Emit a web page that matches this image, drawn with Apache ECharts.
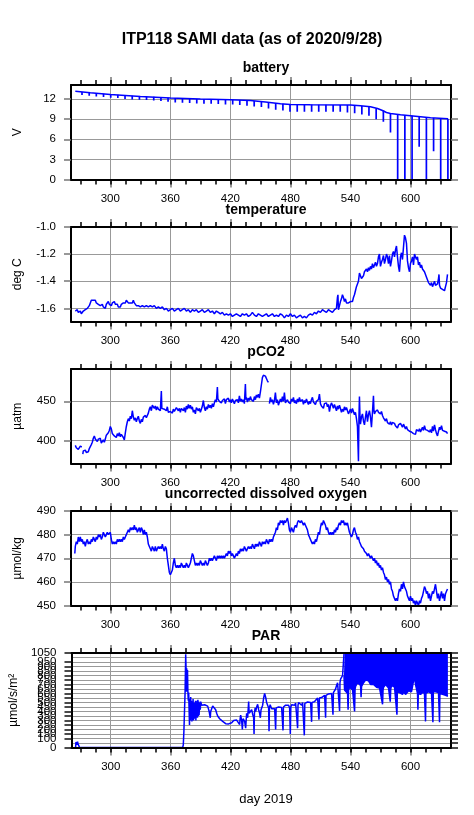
<!DOCTYPE html>
<html><head><meta charset="utf-8">
<script src="https://cdn.jsdelivr.net/npm/echarts@6.0.0/dist/echarts.min.js"></script>
<style>html,body{margin:0;padding:0;background:#fff}#c{width:474px;height:815px}</style>
</head><body><div id="c"></div>
<script>
// ---------- tick labels ----------
const xMajor = [300, 360, 420, 480, 540, 600];
const xMinor = [270, 285, 300, 315, 330, 345, 360, 375, 390, 405, 420, 435, 450, 465, 480, 495, 510, 525, 540, 555, 570, 585, 600, 615, 630];
const battTicks = [0, 3, 6, 9, 12];
const tempTicks = [-1.6, -1.4, -1.2, -1.0];
const pco2Ticks = [400, 450];
const oxyTicks = [450, 460, 470, 480, 490];
const parTicks = [0, 50, 100, 150, 200, 250, 300, 350, 400, 450, 500, 550, 600, 650, 700, 750, 800, 850, 900, 950, 1000, 1050];

// ---------- battery ----------
const battBaseDay = [265, 280, 300, 330, 360, 390, 420, 440, 455, 470, 480, 500, 540, 550, 560, 567, 572, 576, 580, 590, 605, 620, 637.5];
const battBaseV = [13.15, 12.95, 12.7, 12.4, 12.15, 12.0, 11.9, 11.8, 11.55, 11.3, 11.2, 11.15, 11.1, 11.0, 10.85, 10.6, 10.3, 10.0, 9.85, 9.65, 9.45, 9.2, 9.05];
const spikeDay = [271.7, 278.9, 286.0, 293.2, 300.4, 307.5, 314.7, 321.9, 329.1, 336.2, 343.4, 350.6, 357.7, 364.9, 372.1, 379.3, 386.4, 393.6, 400.8, 407.9, 415.1, 422.3, 429.4, 436.6, 443.8, 451.0, 458.1, 465.3, 472.5, 479.6, 486.8, 494.0, 501.2, 508.3, 515.5, 522.7, 529.8, 537.0, 544.2, 551.4, 558.5, 565.7, 572.9, 580.0, 587.2, 594.4, 601.6, 608.7, 615.9, 623.1, 630.2, 637.4];
const spikeTop = [13.05, 12.95, 12.9, 12.8, 12.7, 12.65, 12.6, 12.5, 12.45, 12.4, 12.35, 12.3, 12.2, 12.15, 12.1, 12.05, 12.0, 12.0, 11.95, 11.95, 11.9, 11.9, 11.85, 11.8, 11.7, 11.6, 11.5, 11.4, 11.3, 11.2, 11.2, 11.2, 11.2, 11.15, 11.15, 11.1, 11.1, 11.1, 11.0, 10.95, 10.8, 10.6, 10.3, 9.9, 9.7, 9.6, 9.5, 9.4, 9.3, 9.2, 9.1, 9.05];
const spikeLow = [12.6, 12.5, 12.4, 12.3, 12.2, 12.15, 12.0, 11.95, 11.9, 11.85, 11.8, 11.7, 11.6, 11.5, 11.45, 11.4, 11.35, 11.3, 11.3, 11.25, 11.2, 11.2, 11.1, 11.0, 10.9, 10.8, 10.6, 10.4, 10.3, 10.1, 10.1, 10.1, 10.1, 10.1, 10.1, 10.1, 10.1, 10.0, 9.9, 9.7, 9.5, 9.0, 8.6, 7.0, 0, 0, 0, 4.9, 0, 4.2, 0, 0];

// ---------- temperature [day, degC] ----------
const temperature = [[265,-1.62],[266,-1.63],[267,-1.61],[268,-1.63],[270,-1.62],[271,-1.64],[272,-1.65],[273,-1.62],[274,-1.63],[275,-1.61],[276,-1.62],[277,-1.60],[278,-1.61],[279,-1.58],[280,-1.56],[281,-1.54],[282,-1.53],[283,-1.54],[284,-1.55],[285,-1.54],[286,-1.56],[287,-1.55],[288,-1.57],[289,-1.56],[290,-1.58],[292,-1.57],[293,-1.59],[294,-1.58],[295,-1.60],[296,-1.57],[297,-1.56],[298,-1.55],[299,-1.57],[300,-1.56],[301,-1.58],[302,-1.56],[303,-1.57],[304,-1.55],[305,-1.57],[306,-1.58],[307,-1.57],[308,-1.59],[309,-1.58],[310,-1.59],[311,-1.57],[312,-1.58],[313,-1.56],[314,-1.55],[315,-1.56],[316,-1.54],[317,-1.55],[318,-1.56],[319,-1.55],[320,-1.56],[321,-1.55],[322,-1.56],[323,-1.54],[324,-1.56],[325,-1.57],[326,-1.58],[328,-1.58],[330,-1.59],[332,-1.58],[334,-1.59],[336,-1.58],[338,-1.59],[340,-1.58],[342,-1.59],[344,-1.58],[346,-1.60],[348,-1.59],[350,-1.60],[352,-1.59],[354,-1.61],[356,-1.60],[358,-1.62],[360,-1.61],[362,-1.60],[364,-1.62],[366,-1.61],[368,-1.60],[370,-1.62],[372,-1.61],[374,-1.60],[376,-1.62],[378,-1.61],[380,-1.63],[382,-1.61],[384,-1.62],[386,-1.61],[388,-1.63],[390,-1.62],[392,-1.61],[394,-1.63],[396,-1.62],[398,-1.61],[400,-1.63],[402,-1.62],[404,-1.64],[406,-1.62],[408,-1.63],[410,-1.64],[412,-1.63],[414,-1.65],[416,-1.64],[418,-1.65],[420,-1.64],[422,-1.66],[424,-1.65],[426,-1.64],[428,-1.65],[430,-1.66],[432,-1.64],[434,-1.65],[436,-1.64],[438,-1.66],[440,-1.65],[442,-1.63],[444,-1.65],[446,-1.66],[448,-1.64],[450,-1.65],[452,-1.66],[454,-1.65],[456,-1.64],[458,-1.66],[460,-1.65],[462,-1.64],[464,-1.66],[466,-1.65],[468,-1.66],[470,-1.64],[472,-1.65],[474,-1.67],[476,-1.65],[478,-1.66],[480,-1.64],[482,-1.66],[484,-1.65],[486,-1.67],[488,-1.66],[490,-1.65],[492,-1.67],[494,-1.66],[496,-1.67],[498,-1.65],[500,-1.64],[502,-1.65],[504,-1.63],[506,-1.64],[508,-1.62],[510,-1.63],[512,-1.61],[514,-1.62],[516,-1.63],[518,-1.61],[520,-1.62],[522,-1.63],[524,-1.61],[525,-1.62],[526,-1.60],[527,-1.52],[527.5,-1.50],[528,-1.61],[529,-1.62],[530,-1.55],[531,-1.53],[532,-1.50],[533,-1.52],[534,-1.55],[535,-1.53],[536,-1.56],[537,-1.57],[538,-1.56],[539,-1.57],[540,-1.55],[541,-1.54],[542,-1.55],[543,-1.52],[544,-1.50],[545,-1.47],[546,-1.44],[547,-1.43],[548,-1.40],[549,-1.34],[550,-1.33],[551,-1.38],[552,-1.37],[553,-1.36],[554,-1.33],[555,-1.34],[556,-1.31],[557,-1.33],[558,-1.30],[559,-1.32],[560,-1.29],[561,-1.31],[562,-1.27],[563,-1.30],[564,-1.28],[565,-1.26],[566,-1.29],[567,-1.27],[568,-1.22],[569,-1.20],[570,-1.29],[571,-1.26],[572,-1.24],[573,-1.21],[574,-1.27],[575,-1.24],[576,-1.20],[577,-1.22],[578,-1.27],[579,-1.21],[580,-1.29],[581,-1.25],[582,-1.20],[583,-1.18],[584,-1.22],[585,-1.17],[586,-1.14],[587,-1.22],[588,-1.29],[589,-1.33],[590,-1.22],[591,-1.19],[592,-1.24],[593,-1.15],[594,-1.06],[595,-1.08],[596,-1.12],[597,-1.25],[598,-1.30],[599,-1.33],[600,-1.27],[601,-1.25],[602,-1.22],[603,-1.28],[604,-1.20],[605,-1.19],[606,-1.24],[607,-1.22],[608,-1.28],[609,-1.26],[610,-1.30],[611,-1.28],[612,-1.31],[613,-1.30],[614,-1.33],[615,-1.34],[616,-1.37],[617,-1.38],[618,-1.41],[619,-1.40],[620,-1.43],[621,-1.41],[622,-1.44],[623,-1.42],[624,-1.40],[625,-1.43],[626,-1.44],[627,-1.42],[628,-1.38],[628.5,-1.35],[629,-1.43],[630,-1.45],[631,-1.44],[632,-1.46],[633,-1.45],[634,-1.47],[635,-1.44],[636,-1.41],[637,-1.35]];

// ---------- pCO2 [day, µatm] ----------
const pco2 = [[265,394],[266,391],[267,392],[268,389],[269,390],[270,393],[271,394],[271.5,392],[272,null],[272.5,383],[273,387],[274,386],[275,388],[276,385],[277,387],[278,386],[279,390],[280,388],[281,395],[282,398],[283,403],[284,406],[285,402],[286,404],[287,399],[288,402],[289,400],[290,403],[291,397],[292,399],[293,401],[294,398],[295,402],[296,407],[297,405],[298,410],[299,413],[300,418],[301,415],[302,409],[303,411],[304,406],[305,408],[306,404],[307,409],[308,406],[309,410],[310,405],[311,408],[312,409],[313,404],[314,401],[315,410],[316,418],[317,424],[318,428],[319,425],[320,431],[321,428],[322,438],[323,430],[324,426],[325,429],[326,424],[327,428],[328,431],[329,425],[330,422],[331,427],[332,424],[333,430],[334,428],[335,432],[336,429],[337,431],[338,435],[339,440],[340,443],[341,438],[342,445],[343,446],[344,441],[345,444],[346,439],[347,443],[348,440],[349,442],[350,438],[351,463],[351.5,441],[352,439],[353,443],[354,440],[355,442],[356,438],[357,443],[358,436],[359,434],[360,437],[361,439],[362,435],[363,440],[364,437],[365,439],[366,442],[367,444],[368,438],[369,441],[370,436],[371,441],[372,443],[373,438],[374,442],[375,436],[376,444],[377,440],[378,446],[379,441],[380,445],[381,440],[382,443],[383,436],[384,439],[385,434],[386,442],[387,444],[388,438],[389,441],[390,436],[391,440],[392,444],[393,451],[394,442],[395,438],[396,443],[397,440],[398,446],[399,442],[400,445],[401,441],[402,447],[403,443],[404,448],[405,452],[406,449],[407,468],[407.5,453],[408,455],[409,450],[410,452],[411,448],[412,451],[413,449],[414,453],[415,447],[416,452],[417,450],[418,454],[419,449],[420,452],[421,448],[422,453],[423,450],[424,447],[425,451],[426,449],[427,452],[428,448],[429,457],[430,450],[431,453],[432,449],[433,452],[434,447],[435,472],[435.5,452],[436,455],[437,449],[438,454],[439,451],[440,456],[441,452],[442,454],[443,450],[444,456],[445,452],[446,458],[447,455],[448,459],[449,454],[450,462],[451,471],[452,480],[453,483],[454,481],[455,482],[456,479],[457,476],[458,474],[458.5,null],[459,447],[460,455],[461,449],[462,452],[463,446],[464,451],[465,461],[466,448],[467,452],[468,445],[469,447],[470,453],[471,449],[472,456],[473,450],[474,461],[475,448],[476,446],[477,452],[478,449],[479,451],[480,447],[481,453],[482,450],[483,455],[484,448],[485,451],[486,447],[487,453],[488,449],[489,455],[490,450],[491,448],[492,452],[493,446],[494,451],[495,448],[496,453],[497,449],[498,446],[499,450],[500,447],[501,452],[502,455],[503,449],[504,451],[505,446],[506,450],[507,448],[508,452],[509,459],[510,447],[511,444],[512,446],[513,441],[514,447],[515,445],[516,448],[517,443],[518,446],[519,437],[520,444],[521,448],[522,445],[523,441],[524,446],[525,442],[526,438],[527,444],[528,440],[529,445],[530,441],[531,436],[532,440],[533,437],[534,443],[535,439],[536,442],[537,438],[538,434],[539,437],[540,440],[541,435],[542,441],[543,437],[544,433],[545,436],[546,428],[547,418],[548,374],[548.5,430],[549,456],[549.5,432],[550,421],[551,430],[552,434],[553,425],[554,420],[555,430],[556,438],[557,424],[558,433],[559,438],[560,430],[561,417],[562,436],[563,457],[563.5,438],[564,434],[565,437],[566,435],[567,439],[568,436],[569,438],[570,434],[571,437],[572,432],[573,429],[574,427],[575,425],[576,428],[577,423],[578,425],[579,421],[580,424],[581,420],[582,423],[583,425],[584,422],[585,419],[586,421],[587,416],[588,420],[589,418],[590,422],[591,420],[592,417],[593,421],[594,419],[595,415],[596,418],[597,414],[598,416],[599,412],[600,414],[601,411],[602,413],[603,409],[604,411],[605,408],[606,414],[607,416],[608,412],[609,415],[610,411],[611,414],[612,417],[613,413],[614,419],[615,414],[616,416],[617,413],[618,415],[619,411],[620,414],[621,410],[622,418],[623,412],[624,420],[625,414],[626,409],[627,406],[628,412],[629,417],[630,414],[631,419],[632,413],[633,415],[634,412],[635,414],[636,411],[637,409]];

// ---------- dissolved oxygen [day, µmol/kg] ----------
const oxygen = [[264.5,472],[265,475],[266,477],[267,476],[268,479],[269,477],[270,479],[271,477],[272,478],[273,476],[274,477],[275,475],[276,477],[277,478],[278,476],[279,477],[280,476],[281,478],[282,477],[283,479],[284,478],[285,477],[286,479],[287,478],[288,480],[289,479],[290,480],[291,478],[292,479],[293,481],[294,480],[295,479],[296,480],[297,481],[298,480],[299,480],[300,481],[301,478],[302,476],[303,477],[304,476],[305,477],[306,476],[307,478],[308,477],[309,478],[310,477],[311,478],[312,477],[313,479],[314,478],[315,479],[316,480],[317,481],[318,482],[319,481],[320,483],[321,482],[322,483],[323,482],[324,484],[325,482],[326,483],[327,481],[328,482],[329,483],[330,481],[331,483],[332,482],[333,480],[334,482],[335,480],[336,481],[337,479],[338,476],[339,475],[340,474],[341,473],[342,475],[343,474],[344,473],[345,475],[346,473],[347,474],[348,475],[349,474],[350,475],[351,474],[352,476],[353,474],[354,473],[355,475],[356,474],[357,470],[358,467],[359,464],[360,463],[361,464],[362,465],[363,468],[364,470],[365,467],[366,466],[367,467],[368,466],[369,467],[370,466],[371,468],[372,467],[373,466],[374,467],[375,466],[376,468],[377,467],[378,466],[379,467],[380,468],[381,470],[382,472],[383,471],[384,469],[385,467],[386,468],[387,467],[388,468],[389,467],[390,469],[391,468],[392,467],[393,468],[394,467],[395,469],[396,468],[397,467],[398,468],[399,470],[400,469],[401,470],[402,469],[403,470],[404,471],[405,470],[406,469],[407,471],[408,470],[409,471],[410,470],[411,471],[412,470],[413,471],[414,470],[415,471],[416,472],[417,471],[418,473],[419,472],[420,473],[421,471],[422,472],[423,471],[424,470],[425,471],[426,472],[427,471],[428,473],[429,472],[430,474],[431,473],[432,474],[433,473],[434,475],[435,474],[436,473],[437,474],[438,475],[439,474],[440,475],[441,474],[442,476],[443,475],[444,474],[445,476],[446,475],[447,476],[448,475],[449,477],[450,476],[451,475],[452,477],[453,476],[454,477],[455,476],[456,478],[457,477],[458,476],[459,478],[460,477],[461,478],[462,477],[463,479],[464,480],[465,481],[466,483],[467,482],[468,485],[469,484],[470,486],[471,485],[472,486],[473,484],[474,486],[475,485],[476,486],[477,487],[478,485],[479,482],[480,481],[481,483],[482,482],[483,481],[484,483],[485,484],[486,483],[487,485],[488,486],[489,486],[490,485],[491,486],[492,485],[493,484],[494,485],[495,484],[496,483],[497,482],[498,480],[499,479],[500,478],[501,477],[502,476],[503,477],[504,476],[505,478],[506,477],[507,479],[508,481],[509,480],[510,483],[511,485],[512,484],[513,486],[514,485],[515,484],[516,482],[517,483],[518,481],[519,480],[520,481],[521,480],[522,481],[523,480],[524,482],[525,481],[526,483],[527,482],[528,484],[529,485],[530,484],[531,486],[532,485],[533,486],[534,484],[535,485],[536,484],[537,485],[538,483],[539,481],[540,480],[541,479],[542,480],[543,482],[544,483],[545,481],[546,480],[547,478],[548,479],[549,477],[550,476],[551,475],[552,475],[553,474],[554,473],[555,473],[556,472],[557,471],[558,472],[559,471],[560,470],[561,471],[562,470],[563,469],[564,470],[565,468],[566,469],[567,467],[568,468],[569,466],[570,467],[571,465],[572,466],[573,464],[574,463],[575,461],[576,462],[577,460],[578,461],[579,459],[580,460],[581,457],[582,456],[583,454],[584,453],[585,452],[586,453],[587,452],[588,455],[589,457],[590,456],[591,459],[592,457],[593,460],[594,458],[595,457],[596,456],[597,454],[598,453],[599,452],[600,454],[601,452],[602,453],[603,451],[604,452],[605,450],[606,452],[607,451],[608,450],[609,452],[610,451],[611,453],[612,454],[613,456],[614,458],[615,457],[616,455],[617,456],[618,453],[619,455],[620,452],[621,454],[622,456],[623,455],[624,457],[625,459],[626,456],[627,453],[628,455],[629,452],[630,454],[631,456],[632,453],[633,455],[634,452],[635,455],[636,456],[637,457]];

// ---------- PAR [day, µmol/s/m2] ----------
const par = [[264.8,0],[265.2,60],[265.6,45],[266,70],[266.4,30],[266.8,65],[267.2,40],[267.6,55],[268,20],[268.4,50],[268.8,0],[270,0],[372,0],[372.6,30],[373.2,180],[373.8,400],[374.4,620],[375,1035],[375.4,860],[375.7,620],[376,880],[376.4,700],[376.8,860],[377.2,620],[377.6,520],[378,610],[378.4,420],[378.8,250],[379.2,540],[379.6,300],[380,560],[380.4,330],[380.8,520],[381.2,290],[381.6,500],[382,310],[382.4,540],[382.8,300],[383.2,470],[383.6,320],[384,500],[384.4,330],[384.8,520],[385.2,300],[385.6,490],[386,340],[386.4,520],[386.8,330],[387.2,530],[387.6,350],[388,510],[388.4,360],[389,500],[389.6,420],[390,510],[391,470],[392,490],[393,480],[394,475],[395,485],[396,470],[397,460],[398,440],[398.5,400],[399,420],[399.6,330],[400,400],[401,430],[402,460],[403,470],[404,440],[405,420],[406,380],[407,350],[408,330],[409,320],[410,310],[411,300],[412,290],[413,280],[414,270],[415,265],[416,260],[417,255],[418,262],[419,270],[420,280],[421,275],[422,290],[423,300],[424,295],[425,310],[426,305],[427,320],[428,300],[429,255],[429.5,320],[430,360],[431,300],[431.7,200],[432.4,320],[433,330],[434,290],[435,215],[435.5,300],[436,380],[437,330],[438,510],[438.5,380],[439,360],[440,380],[441,420],[442,370],[443,330],[443.4,150],[443.8,380],[444.5,440],[445,400],[446,450],[447,480],[448,420],[449,380],[449.7,330],[450.4,420],[451,440],[452,470],[453,550],[454,600],[454.5,620],[455,560],[456,500],[457,470],[458,440],[458.4,180],[458.8,440],[459.5,475],[460,460],[461,430],[462,440],[463,450],[464,430],[465,200],[465.5,440],[466,455],[467,430],[468,450],[469,440],[470,460],[471,445],[472.4,190],[472.8,450],[473.5,460],[474.4,440],[475,470],[476,455],[477,450],[478,470],[479,440],[479.7,150],[480.2,450],[481,475],[482,460],[483,490],[484,470],[485,495],[486,480],[487,215],[487.4,470],[488,500],[489,480],[490,495],[491,470],[492,500],[493,480],[493.7,135],[494.2,490],[495,510],[496,490],[497,505],[498,495],[499,490],[500,500],[501,285],[501.4,500],[502,510],[503,520],[504,510],[505,530],[506,525],[507,550],[508,545],[508.4,310],[508.8,550],[509.5,560],[510,570],[511,555],[512,570],[513,575],[514,580],[515,330],[515.4,580],[516,590],[517,585],[518,595],[519,600],[520,610],[521,600],[522.4,365],[522.8,610],[523.5,625],[524,620],[525,650],[526,690],[527,720],[528,700],[529,405],[529.4,720],[530,760],[531,750],[532,800],[533,810],[533.4,1039]];
// lower envelope of the saturated daily PAR band (band fills up to the axis top)
const parBand = [[533.4,800],[534,640],[535,620],[536,630],[537,600],[537.5,420],[538,640],[539,670],[540,660],[541,650],[542,640],[543,660],[544,400],[544.5,650],[545,680],[546,700],[547,720],[548,735],[549,710],[550,690],[550.5,560],[551,680],[552,700],[553,720],[554,740],[555,750],[556,740],[557,730],[558,740],[559,720],[560,700],[561,710],[562,690],[563,700],[564,680],[565,690],[566,670],[567,660],[568,680],[569,660],[570,650],[571,640],[572,480],[572.5,640],[573,670],[574,690],[575,700],[576,690],[577,680],[578,660],[579,640],[579.7,510],[580.2,650],[581,690],[582,700],[583,680],[584,670],[585,650],[586.4,365],[586.8,620],[587.5,640],[588,620],[589,610],[590,620],[591,600],[592,590],[593,620],[594,600],[595,590],[596,580],[597,600],[598,630],[599,640],[600,650],[601,620],[602,680],[603,740],[604,770],[605,700],[606,650],[607,600],[607.4,420],[607.8,600],[608.5,580],[609,600],[610,590],[611,585],[612,600],[613,620],[614,590],[615,290],[615.4,600],[616,620],[617,610],[618,620],[619,630],[620,610],[621,600],[622.4,280],[622.8,620],[623.5,630],[624,610],[625,620],[626,600],[627,620],[628,610],[629,280],[629.4,600],[630,590],[631,580],[632,590],[633,580],[634,570],[635,580],[636,560],[637.4,570]];

// ---------- layout ----------
const FONT = "'Liberation Sans', Arial, Helvetica, sans-serif";
const XMIN = 260.7, XMAX = 640.5;
const BLUE = '#0000ff';
const panels = [
  {title: 'battery', yName: 'V', min: 0, max: 14.1, ticks: battTicks, dec: 0},
  {title: 'temperature', yName: 'deg C', min: -1.697, max: -1.0, ticks: tempTicks, dec: 1},
  {title: 'pCO2', yName: 'µatm', min: 371, max: 491, ticks: pco2Ticks, dec: 0},
  {title: 'uncorrected dissolved oxygen', yName: 'µmol/kg', min: 450, max: 490, ticks: oxyTicks, dec: 0},
  {title: 'PAR', yName: 'µmol/s/m²', min: 0, max: 1050, ticks: parTicks, dec: 0}
];
const TOP0 = 85, STEP = 142, H = 94.5, LEFT = 71, RIGHT = 23;
const CLEAR = 'rgba(0,0,0,0)';

const grids = [], xAxes = [], yAxes = [], titles = [];
titles.push({text: 'ITP118 SAMI data (as of 2020/9/28)', left: 247, top: 27, textAlign: 'center',
  textStyle: {fontFamily: FONT, fontSize: 16, fontWeight: 'bold', color: '#000'}});
panels.forEach((p, i) => {
  const top = TOP0 + STEP * i;
  // grid 2i: data grid; grid 2i+1: overlay grid carrying the major vertical grid lines
  grids.push({left: LEFT, right: RIGHT, top: top, height: H, containLabel: false});
  grids.push({left: LEFT, right: RIGHT, top: top, height: H, containLabel: false});
  titles.push({text: p.title, left: 261, top: top - 29, textAlign: 'center',
    textStyle: {fontFamily: FONT, fontSize: 14, fontWeight: 'bold', color: '#000'}});
  const gA = 2 * i, gB = 2 * i + 1;
  xAxes.push({gridIndex: gA, type: 'value', min: XMIN, max: XMAX, position: 'bottom', z: 10,
    axisLine: {show: true, onZero: false, lineStyle: {color: '#000', width: 2}},
    axisTick: {show: true, customValues: xMinor, length: 5, lineStyle: {color: '#000', width: 1.5}},
    axisLabel: {show: true, customValues: xMajor, margin: 13, fontFamily: FONT, fontSize: 11.5, color: '#000'},
    splitLine: {show: false}});
  xAxes.push({gridIndex: gA, type: 'value', min: XMIN, max: XMAX, position: 'top', z: 10,
    axisLine: {show: true, onZero: false, lineStyle: {color: '#000', width: 2}},
    axisTick: {show: true, customValues: xMinor, length: 5, lineStyle: {color: '#000', width: 1.5}},
    axisLabel: {show: false}, splitLine: {show: false}});
  xAxes.push({gridIndex: gB, type: 'value', min: XMIN, max: XMAX, position: 'bottom',
    axisLine: {show: true, onZero: false, lineStyle: {color: CLEAR, width: 1}},
    axisTick: {show: true, customValues: xMajor, length: 8, lineStyle: {color: '#777', width: 1.5}},
    axisLabel: {show: false}, splitLine: {show: true, lineStyle: {color: '#999', width: 1}}});
  xAxes.push({gridIndex: gB, type: 'value', min: XMIN, max: XMAX, position: 'top',
    axisLine: {show: true, onZero: false, lineStyle: {color: CLEAR, width: 1}},
    axisTick: {show: true, customValues: xMajor, length: 8, lineStyle: {color: '#777', width: 1.5}},
    axisLabel: {show: false}, splitLine: {show: false}});
  const tcol = i === 4 ? '#111' : '#777';
  yAxes.push({gridIndex: gA, type: 'value', min: p.min, max: p.max, position: 'left',
    name: p.yName, nameLocation: 'middle', nameRotate: 90, nameGap: 47,
    nameTextStyle: {fontFamily: FONT, fontSize: 12, color: '#000'},
    axisLine: {show: true, onZero: false, lineStyle: {color: '#000', width: 2}},
    axisTick: {show: true, customValues: p.ticks, length: 7, lineStyle: {color: tcol, width: 1.5}},
    axisLabel: {show: true, customValues: p.ticks, showMinLabel: true, showMaxLabel: true, hideOverlap: false,
      margin: 15, fontFamily: FONT, fontSize: 11.5, color: '#000',
      formatter: v => Number(v).toFixed(p.dec)},
    splitLine: {show: true, lineStyle: {color: '#999', width: 1}}});
  yAxes.push({gridIndex: gA, type: 'value', min: p.min, max: p.max, position: 'right', z: 10,
    axisLine: {show: true, onZero: false, lineStyle: {color: '#000', width: 2}},
    axisTick: {show: true, customValues: p.ticks, length: 7, lineStyle: {color: tcol, width: 1.5}},
    axisLabel: {show: false}, splitLine: {show: false}});
  yAxes.push({gridIndex: gB, type: 'value', min: 0, max: 1, show: false});
});
titles.push({text: 'day 2019', left: 261, top: 788, textAlign: 'center',
  textStyle: {fontFamily: FONT, fontSize: 13, fontWeight: 'normal', color: '#000'}});

// build battery series data from typed arrays
const battLine = battBaseDay.map((d, k) => [d, battBaseV[k]]);
const battSpikes = [];
spikeDay.forEach((d, k) => { battSpikes.push([d, spikeTop[k]], [d, spikeLow[k]], [d, null]); });

const lineStyle = {color: BLUE, width: 1.5};
function ser(i, data, extra) {
  return Object.assign({type: 'line', xAxisIndex: i * 4, yAxisIndex: i * 3, data: data, showSymbol: false,
    symbol: 'none', lineStyle: lineStyle, itemStyle: {color: BLUE}, connectNulls: false, animation: false,
    silent: true, z: 5}, extra || {});
}
const series = [
  ser(0, battLine),
  ser(0, battSpikes, {lineStyle: {color: BLUE, width: 1.7}}),
  ser(1, temperature),
  ser(2, pco2),
  ser(3, oxygen),
  ser(4, par),
  ser(4, parBand, {areaStyle: {color: BLUE, opacity: 1, origin: 'end'}})
];

const chart = echarts.init(document.getElementById('c'), null, {renderer: 'canvas'});
chart.setOption({
  animation: false,
  backgroundColor: '#fff',
  textStyle: {fontFamily: FONT},
  title: titles, grid: grids, xAxis: xAxes, yAxis: yAxes, series: series
});
</script></body></html>
